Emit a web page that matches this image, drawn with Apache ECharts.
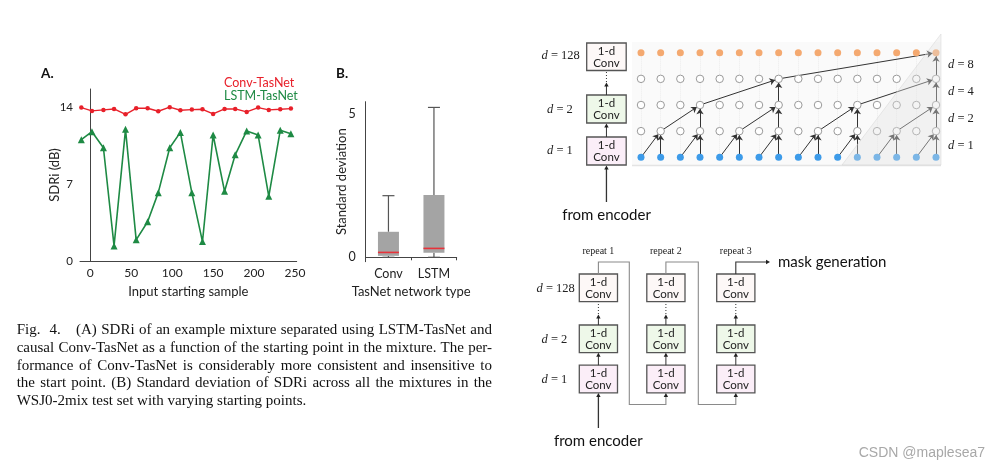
<!DOCTYPE html>
<html><head><meta charset="utf-8">
<script src="https://cdn.jsdelivr.net/npm/echarts@6/dist/echarts.min.js"></script>
<style>html,body{margin:0;padding:0;background:#fff}#c{width:1000px;height:470px}</style>
</head><body><div id="c"></div><script>
// ---- Panel A data ----
const startSamples = [-11, 2, 16, 29, 43, 56, 70, 83, 97, 110, 124, 137, 150, 164, 177, 191, 205, 218, 232, 245];
const convTasNet = [14.0, 13.7, 13.79, 13.88, 13.39, 13.94, 13.94, 13.67, 14.04, 13.76, 13.82, 13.85, 13.42, 13.88, 13.88, 13.61, 14.0, 13.79, 13.85, 13.91];
const lstmTasNet = [11.07, 11.8, 10.34, 1.38, 12.02, 1.93, 3.58, 6.24, 10.34, 11.74, 6.24, 1.77, 11.5, 6.36, 9.69, 11.87, 11.5, 5.9, 11.93, 11.62];
const sdriTicks = [0, 7, 14];
const sampleTicks = [0, 50, 100, 150, 200, 250];
// ---- Panel B data ----
const netTypes = ['Conv', 'LSTM'];
const stdLow = [0, 0];
const stdQ1 = [0.05, 0.16];
const stdMedian = [0.17, 0.31];
const stdQ3 = [0.89, 2.17];
const stdHigh = [2.15, 5.23];
const stdTicks = [0, 5];
// ---- TCN diagram structure ----
const tcnColumns = 16;
const tcnRowLabels = ['d = 1', 'd = 2', 'd = 4', 'd = 8'];
const tcnDilations = [1, 2, 4, 8];
const tcnTargets = [[1, 3, 5, 7, 9, 11, 13, 15], [3, 7, 11, 15], [7, 15], [15]];
const stackLabels = ['d = 128', 'd = 2', 'd = 1'];
const repeatLabels = ['repeat 1', 'repeat 2', 'repeat 3'];
const captionFirst = ['Fig.', '4.'];
const captionLines = [
  '(A) SDRi of an example mixture separated using LSTM-TasNet and',
  'causal Conv-TasNet as a function of the starting point in the mixture. The per-',
  'formance of Conv-TasNet is considerably more consistent and insensitive to',
  'the start point. (B) Standard deviation of SDRi across all the mixtures in the',
  'WSJ0-2mix test set with varying starting points.'
];

const SANS = 'Lato';
const SERIF = '"Liberation Serif"';
const chart = echarts.init(document.getElementById('c'));

// ---------- helpers for graphic elements ----------
const G = [];
function txt(x, y, text, font, fill, align, extra) {
  G.push(Object.assign({type: 'text', x, y, style: {text, font, fill: fill || '#111', align: align || 'left', verticalAlign: 'middle', textAlign: align || 'left', textVerticalAlign: 'middle'}}, extra || {}));
}
function line(x1, y1, x2, y2, stroke, w, dash) {
  G.push({type: 'line', shape: {x1, y1, x2, y2}, style: {stroke: stroke || '#333', lineWidth: w || 1, lineDash: dash || null}});
}
function poly(points, stroke, w) {
  G.push({type: 'polyline', shape: {points}, style: {stroke: stroke || '#333', lineWidth: w || 1, fill: null}});
}
function arrowHead(x, y, dir, color, s) {
  s = s || 4;
  let pts;
  if (dir === 'up') pts = [[x, y], [x - s * 0.55, y + s], [x + s * 0.55, y + s]];
  else pts = [[x, y], [x - s, y - s * 0.55], [x - s, y + s * 0.55]];
  G.push({type: 'polygon', shape: {points: pts}, style: {fill: color || '#222'}});
}
function box(x, y, w, h, fill) {
  G.push({type: 'rect', shape: {x, y, width: w, height: h}, style: {fill, stroke: '#555', lineWidth: 1.3}});
  txt(x + w / 2, y + h * 0.3, '1-d', '11.5px ' + SANS, '#222', 'center');
  txt(x + w / 2, y + h * 0.72, 'Conv', '11.5px ' + SANS, '#222', 'center');
}
function dLabel(x, y, label, align) {
  const parts = label.split(' ');
  G.push({type: 'text', x, y, style: {
    text: '{i|' + parts[0] + '}{n| ' + parts.slice(1).join(' ') + '}',
    align: align || 'left', verticalAlign: 'middle', textAlign: align || 'left', textVerticalAlign: 'middle',
    rich: {i: {fill: '#222', fontStyle: 'italic', fontSize: 12.5, fontFamily: 'Liberation Serif'},
           n: {fill: '#222', fontSize: 12.5, fontFamily: 'Liberation Serif'}}
  }});
}

// ---------- caption (justified) ----------
const CFONT = '15px ' + SERIF;
const mctx = document.createElement('canvas').getContext('2d');
mctx.font = CFONT;
function justify(text, x0, x1, y, just) {
  const words = text.split(' ');
  const ws = words.map(w => mctx.measureText(w).width);
  const tot = ws.reduce((a, b) => a + b, 0);
  const gap = just ? (x1 - x0 - tot) / (words.length - 1) : mctx.measureText(' ').width;
  let x = x0;
  words.forEach((w, i) => { txt(x, y, w, CFONT, '#111', 'left'); x += ws[i] + gap; });
}
const capY = [330, 348.3, 365.8, 383.3, 401];
txt(16.7, capY[0], captionFirst[0], CFONT, '#111', 'left');
txt(49.5, capY[0], captionFirst[1], CFONT, '#111', 'left');
captionLines.forEach((l, i) => justify(l, i === 0 ? 76 : 16.7, 492, capY[i], i < captionLines.length - 1));

// ---------- panel labels ----------
txt(41, 74, 'A.', 'bold 13.5px ' + SANS, '#111');
txt(336, 74, 'B.', 'bold 13.5px ' + SANS, '#111');

// ---------- top-right diagram ----------
G.push({type: 'rect', shape: {x: 632, y: 42, width: 309, height: 123}, style: {fill: '#fafafa'}, z: -1});
line(632, 165.5, 941, 165.5, '#e4e4e4', 1.5);
G.push({type: 'polygon', shape: {points: [[842, 165], [941, 165], [941, 34]]}, style: {fill: 'rgba(225,225,225,0.38)', stroke: 'rgba(210,210,210,0.6)', lineWidth: 0.8}, z: 50});
const tbx = 586.7, tbw = 39.5, tcx = tbx + tbw / 2;
box(tbx, 43, tbw, 27.5, '#fdf8f7');
box(tbx, 95, tbw, 28, '#eef8e9');
box(tbx, 137, tbw, 28, '#fbeef8');
line(tcx, 137, tcx, 127); arrowHead(tcx, 123.5, 'up');
line(tcx, 95, tcx, 86); arrowHead(tcx, 82.5, 'up');
line(tcx, 82, tcx, 71, '#333', 1, [1, 2]);
line(tcx, 202, tcx, 169, '#333', 1.3); arrowHead(tcx, 165.5, 'up');
txt(606.5, 215, 'from encoder', '15px ' + SANS, '#111', 'center');
dLabel(541.5, 55.5, stackLabels[0]);
dLabel(547, 110, stackLabels[1]);
dLabel(547, 151, stackLabels[2]);
const rightLabelY = [146, 118.5, 92, 65];
tcnRowLabels.forEach((l, i) => dLabel(948, rightLabelY[i], l));

// ---------- bottom-right diagram ----------
const bcols = [579.3, 646.8, 716.7], bw = 38.2, bh = 27.7, brow = [274, 325, 365.2];
const bfill = ['#fdf8f7', '#eef8e9', '#fbeef8'];
bcols.forEach((x, c) => {
  const cx = x + bw / 2;
  brow.forEach((y, r) => box(x, y, bw, bh, bfill[r]));
  line(cx, brow[2], cx, brow[1] + bh + 3.5); arrowHead(cx, brow[1] + bh, 'up');
  line(cx, brow[1], cx, 318); arrowHead(cx, 314.5, 'up');
  line(cx, 314, cx, brow[0] + bh, '#333', 1, [1, 2]);
  txt(cx, 251, repeatLabels[c], '10px ' + SERIF, '#222', 'center');
});
const bcx = bcols.map(x => x + bw / 2);
poly([[bcx[0], 274], [bcx[0], 262], [629.3, 262], [629.3, 404.5], [bcx[1], 404.5], [bcx[1], 397]], '#8a8a8a', 1.1);
arrowHead(bcx[1], 393, 'up');
poly([[bcx[1], 274], [bcx[1], 262], [698.3, 262], [698.3, 404.5], [bcx[2], 404.5], [bcx[2], 397]], '#8a8a8a', 1.1);
arrowHead(bcx[2], 393, 'up');
poly([[bcx[2], 274], [bcx[2], 262], [766, 262]], '#333', 1.1);
arrowHead(770, 262, 'right', '#222', 4);
txt(778, 262.5, 'mask generation', '15px ' + SANS, '#111', 'left');
line(bcx[0], 428, bcx[0], 397, '#333', 1.3); arrowHead(bcx[0], 393, 'up');
txt(598.3, 441, 'from encoder', '15px ' + SANS, '#111', 'center');
dLabel(536.5, 289, stackLabels[0]);
dLabel(541.5, 339.5, stackLabels[1]);
dLabel(541.5, 379.5, stackLabels[2]);

// watermark
txt(985, 453, 'CSDN @maplesea7', '14px "Liberation Sans"', '#a8a8a8', 'right');

// ---------- TCN graph nodes and links ----------
const rowColors = ['#3d9be9', '#ffffff', '#ffffff', '#ffffff', '#f4a970'];
const nodes = [];
for (let r = 0; r <= tcnDilations.length; r++) {
  for (let c = 0; c < tcnColumns; c++) {
    const hollow = r > 0 && r < tcnDilations.length;
    nodes.push({name: 'n' + r + '_' + c, value: [c, r], symbolSize: hollow ? 7.5 : 7,
      itemStyle: {color: rowColors[r], borderColor: hollow ? '#9a9a9a' : rowColors[r], borderWidth: hollow ? 1 : 0}});
  }
}
const links = [];
tcnTargets.forEach((targets, li) => {
  const d = tcnDilations[li];
  targets.forEach(t => {
    links.push({source: 'n' + li + '_' + (t - d), target: 'n' + (li + 1) + '_' + t});
    links.push({source: 'n' + li + '_' + t, target: 'n' + (li + 1) + '_' + t});
  });
});

// ---------- box data ----------
const boxData = netTypes.map((n, i) => [i, stdLow[i], stdQ1[i], stdMedian[i], stdQ3[i], stdHigh[i]]);

const axisLineStyle = {color: '#444', width: 1};
const option = {
  backgroundColor: '#fff',
  animation: false,
  textStyle: {fontFamily: SANS},
  legend: {
    left: 219, top: 76, orient: 'vertical', itemGap: 0, padding: 0, itemWidth: 0, itemHeight: 0, selectedMode: false,
    textStyle: {fontSize: 12.5, lineHeight: 11, fontFamily: SANS},
    data: [{name: 'Conv-TasNet', icon: 'none', textStyle: {color: '#e8202a'}},
           {name: 'LSTM-TasNet', icon: 'none', textStyle: {color: '#1e8a44'}}]
  },
  grid: [
    {left: 80, top: 89, width: 216.7, height: 172},
    {left: 365.7, top: 101.7, width: 91, height: 160},
    {left: 641, top: 52.7, width: 295, height: 104.6}
  ],
  xAxis: [
    {type: 'value', gridIndex: 0, min: -12.6, max: 252.1,
      axisLine: {lineStyle: axisLineStyle}, axisTick: {show: false}, splitLine: {show: false},
      axisLabel: {customValues: sampleTicks, color: '#222', fontSize: 12, margin: 6},
      name: 'Input starting sample', nameLocation: 'middle', nameGap: 24, nameMoveOverlap: false, nameTextStyle: {fontSize: 13, color: '#222'}},
    {type: 'category', gridIndex: 1, data: netTypes,
      axisLine: {lineStyle: axisLineStyle}, axisTick: {show: true, length: 3, lineStyle: {color: '#444'}},
      axisLabel: {color: '#222', fontSize: 12.5, margin: 6},
      name: 'TasNet network type', nameLocation: 'middle', nameGap: 23.5, nameMoveOverlap: false, nameTextStyle: {fontSize: 13, color: '#222'}},
    {type: 'value', gridIndex: 2, min: 0, max: 15, interval: 1, show: true,
      axisLine: {show: false}, axisTick: {show: false}, axisLabel: {show: false},
      splitLine: {show: true, lineStyle: {color: '#ececec', type: 'dotted', width: 1}}}
  ],
  yAxis: [
    {type: 'value', gridIndex: 0, min: 0, max: 15.7,
      axisLine: {show: true, lineStyle: axisLineStyle}, axisTick: {show: false}, splitLine: {show: false},
      axisLabel: {customValues: sdriTicks, color: '#222', fontSize: 11.5, margin: 7},
      name: 'SDRi (dB)', nameLocation: 'middle', nameGap: 18.5, nameMoveOverlap: false, nameTextStyle: {fontSize: 13, color: '#222'}},
    {type: 'value', gridIndex: 1, min: -0.154, max: 5.43,
      axisLine: {show: true, lineStyle: axisLineStyle}, axisTick: {show: false}, splitLine: {show: false},
      axisLabel: {customValues: stdTicks, color: '#222', fontSize: 12.5, margin: 10},
      name: 'Standard deviation', nameLocation: 'middle', nameGap: 17.5, nameMoveOverlap: false, nameTextStyle: {fontSize: 13, color: '#222'}},
    {type: 'value', gridIndex: 2, min: 0, max: 4, show: false}
  ],
  series: [
    {name: 'Conv-TasNet', type: 'line', xAxisIndex: 0, yAxisIndex: 0,
      data: startSamples.map((x, i) => [x, convTasNet[i]]),
      symbol: 'circle', symbolSize: 4.5, lineStyle: {color: '#e8202a', width: 1.4}, itemStyle: {color: '#e8202a'}},
    {name: 'LSTM-TasNet', type: 'line', xAxisIndex: 0, yAxisIndex: 0,
      data: startSamples.map((x, i) => [x, lstmTasNet[i]]),
      symbol: 'triangle', symbolSize: 7, lineStyle: {color: '#1e8a44', width: 1.6}, itemStyle: {color: '#1e8a44'}},
    {type: 'custom', xAxisIndex: 1, yAxisIndex: 1, data: boxData,
      encode: {x: 0, y: [1, 2, 3, 4, 5]},
      renderItem: function (params, api) {
        const i = api.value(0);
        const lo = api.coord([i, api.value(1)]), q1 = api.coord([i, api.value(2)]),
              md = api.coord([i, api.value(3)]), q3 = api.coord([i, api.value(4)]), hi = api.coord([i, api.value(5)]);
        const cx = lo[0], w = 21, cap = 12;
        const ws = {stroke: '#555', lineWidth: 1.2};
        return {type: 'group', children: [
          {type: 'line', shape: {x1: cx, y1: hi[1], x2: cx, y2: q3[1]}, style: ws},
          {type: 'line', shape: {x1: cx, y1: q1[1], x2: cx, y2: lo[1]}, style: ws},
          {type: 'line', shape: {x1: cx - cap / 2, y1: hi[1], x2: cx + cap / 2, y2: hi[1]}, style: ws},
          {type: 'line', shape: {x1: cx - cap / 2, y1: lo[1], x2: cx + cap / 2, y2: lo[1]}, style: ws},
          {type: 'rect', shape: {x: cx - w / 2, y: q3[1], width: w, height: q1[1] - q3[1]}, style: {fill: '#a4a4a4'}},
          {type: 'line', shape: {x1: cx - w / 2, y1: md[1], x2: cx + w / 2, y2: md[1]}, style: {stroke: '#e8323a', lineWidth: 1.6}}
        ]};
      }},
    {type: 'graph', layout: 'none', coordinateSystem: 'cartesian2d', xAxisIndex: 2, yAxisIndex: 2,
      data: nodes, links: links, edgeSymbol: ['none', 'arrow'], edgeSymbolSize: 5.5,
      lineStyle: {color: '#333', width: 1, opacity: 1, curveness: 0}, label: {show: false},
      emphasis: {disabled: true}, z: 10}
  ],
  graphic: G
};
chart.setOption(option);
</script></body></html>
